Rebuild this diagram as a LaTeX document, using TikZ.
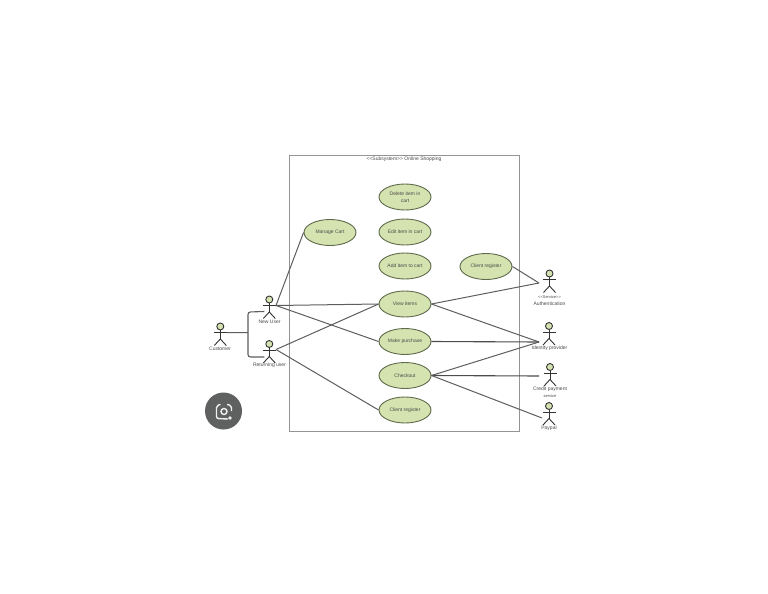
\documentclass[tikz,border=0pt]{standalone}
\usepackage{fontspec}
\setmainfont[Ligatures=NoCommon]{Liberation Sans}
\usetikzlibrary{shapes.geometric,calc}
\definecolor{ucfill}{HTML}{D5E3B0}
\definecolor{ucline}{HTML}{5F6B4C}
\definecolor{lbl}{HTML}{4A4A4A}
\definecolor{conn}{HTML}{5E5E5E}
\definecolor{frm}{HTML}{949494}
\definecolor{lens}{HTML}{5F6060}
\tikzset{
  usecase/.style={ellipse,draw=ucline,fill=ucfill,line width=.9pt,minimum width=52pt,minimum height=26pt,inner sep=0pt,align=center,font=\fontsize{5}{7}\selectfont,text=lbl},
  link/.style={draw=conn,line width=1pt},
  strongl/.style={draw=black!70,line width=1.1pt},
  actorlabel/.style={font=\fontsize{5}{7}\selectfont,text=lbl,align=center,inner sep=0pt},
  smalllabel/.style={font=\fontsize{4}{6}\selectfont,text=lbl,align=center,inner sep=0pt},
  stick/.style={draw=black!80,line width=.9pt},
  headstyle/.style={circle,draw=black!80,fill=ucfill,line width=.9pt,minimum size=7pt,inner sep=0pt},
}
% #1 name, #2 x, #3 y of head centre
\newcommand{\stickactor}[3]{%
  \node[headstyle] (#1head) at (#2,#3) {};
  \coordinate (#1hand) at (#2+6.5,#3+6);
  \coordinate (#1lhand) at (#2-6.5,#3+6);
  \coordinate (#1hip) at (#2,#3+12.5);
  \draw[stick] (#1head.south) -- (#1hip);
  \draw[stick] (#1lhand) -- (#1hand);
  \draw[stick] (#2-6,#3+19) -- (#1hip) -- (#2+6,#3+19);
}
\begin{document}
\begin{tikzpicture}[x=1pt,y=-1pt]
\useasboundingbox (0,0) rectangle (768,594);
\fill[white] (0,0) rectangle (768,594);
\node[draw=frm,line width=1pt,minimum width=229.7pt,minimum height=275.7pt,inner sep=0pt] (sys) at (404.2,293.5) {};
\node[actorlabel] (systitle) at (404,158.8) {<{}<Subsystem>{}> Online Shopping};

\node[usecase] (del) at (405,197) {Delete item in\\cart};
\node[usecase] (edit) at (405,232) {Edit item in cart};
\node[usecase] (add) at (405,266) {Add item to cart};
\node[usecase] (view) at (405,304) {View items};
\node[usecase] (make) at (405,341.5) {Make purchase};
\node[usecase] (check) at (405,375.5) {Checkout};
\node[usecase] (reg) at (405,410) {Client register};
\node[usecase] (cart) at (330,232.5) {Manage Cart};
\node[usecase] (creg) at (486,266.5) {Client register};

\stickactor{cust}{220.3}{326.5}
\stickactor{new}{269.3}{299.5}
\stickactor{ret}{269.3}{344}
\stickactor{auth}{549.5}{273.5}
\stickactor{idp}{549}{326}
\stickactor{cred}{550}{367}
\stickactor{pay}{549}{406}

\coordinate (newout) at (276,305.5);
\coordinate (retout) at (276,349.5);
\coordinate (authin) at (539,283);
\coordinate (idpin) at (539,342);
\coordinate (credin) at (539,376);
\coordinate (payin) at (542,418);

\node[actorlabel] (custl) at (220,348.8) {Customer};
\node[actorlabel] (newl) at (269.5,322) {New User};
\node[actorlabel] (retl) at (269.5,365.5) {Returning user};
\node[smalllabel] (authst) at (549.5,296.8) {<{}<Service>{}>};
\node[actorlabel] (authl) at (549.5,303.5) {Authentication};
\node[actorlabel] (idpl) at (549.5,348.5) {Identity provider};
\node[actorlabel] (credl) at (550,389) {Credit payment};
\node[smalllabel] (credl2) at (550,396) {service};
\node[actorlabel] (payl) at (549,428) {Paypal};

\draw[link] (newout) -- (cart.west);
\draw[link] (newout) -- (view.west);
\draw[link] (newout) -- (make.west);
\draw[link] (retout) -- (view.west);
\draw[link] (retout) -- (reg.west);
\draw[link] (creg.east) -- (authin);
\draw[link] (view.east) -- (authin);
\draw[link] (view.east) -- (idpin);
\draw[strongl] (make.east) -- (idpin);
\draw[link] (check.east) -- (idpin);
\draw[strongl] (check.east) -- (credin);
\draw[link] (check.east) -- (payin);

\coordinate (jn) at (248,332.7);
\draw[link] (custhand) -- (jn);
\draw[link,line width=1.1pt,rounded corners=2.5pt] ($(newhip)+(-5,-.5)$) -- (248,312) -- (248,357) -- ($(rethip)+(-5,.5)$);

\node[circle,fill=lens,minimum size=37pt,inner sep=0pt] (lensbtn) at (223.5,411) {};
\draw[white!90!lens,line width=1.4pt,rounded corners=2pt] (220.5,404.5) -- (216.5,405.5) -- (216.5,418.5) -- (228,419);
\draw[white!90!lens,line width=1.4pt,rounded corners=2pt] (227,404.5) -- (231.5,405.5) -- (231.5,411);
\draw[white!90!lens,line width=1.4pt] (224,411.5) circle (3pt);
\fill[white!90!lens] (230,418) circle (1.8pt);
\end{tikzpicture}
\end{document}
